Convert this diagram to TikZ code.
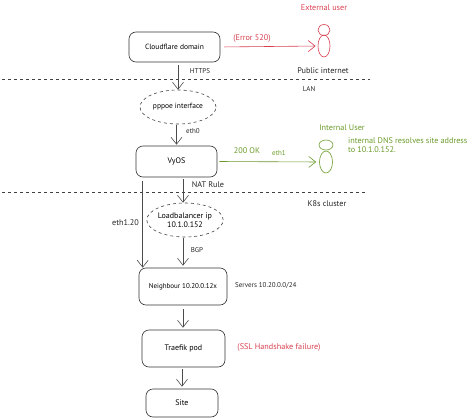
\documentclass[tikz,border=0pt]{standalone}
\usepackage{fontspec}
\setmainfont{PT Sans}
\usepackage{tikz}
\usetikzlibrary{positioning,arrows.meta,shapes.geometric}
\definecolor{failred}{HTML}{D8404F}
\definecolor{okgreen}{HTML}{6A9A2A}
\tikzset{
  part/.style={draw=black!80, line width=0.6pt, rounded corners=7pt, inner sep=0pt, font=\fontsize{8}{9}\selectfont, align=center},
  iface/.style={ellipse, draw=black!75, dashed, line width=0.6pt, inner sep=0pt, font=\fontsize{8}{9}\selectfont, align=center},
  limb/.style={ellipse, line width=0.6pt, inner sep=0pt},
  flow/.style={-{Straight Barb[length=7pt,width=11pt]}, line width=0.6pt, draw=black!70},
  zone/.style={draw=black!75, dashed, line width=0.6pt},
  flabel/.style={font=\fontsize{7}{8}\selectfont, text=black!85, inner sep=0pt, align=left},
  wlabel/.style={flabel, font=\fontsize{8.2}{9.2}\selectfont},
}
\begin{document}
\begin{tikzpicture}[x=1pt,y=-1pt]
\useasboundingbox (0,0) rectangle (474,420);
% boxes down the middle
\node[part, minimum width=91pt, minimum height=30pt, font=\fontsize{7.5}{8}\selectfont] (cloudflare) at (174.5,47) {Cloudflare domain};
\node[iface, minimum width=76pt, minimum height=34pt, font=\fontsize{7.5}{8}\selectfont] (pppoe) at (178,107) {pppoe interface};
\node[part, minimum width=81pt, minimum height=31pt] (vyos) at (176.5,161.5) {VyOS};
\node[iface, minimum width=76pt, minimum height=34pt] (lbip) at (185,220) {Loadbalancer ip\\[0.5pt]10.1.0.152};
\node[part, minimum width=88pt, minimum height=37pt, font=\fontsize{7}{8}\selectfont] (neighbour) at (183,286.5) {Neighbour 10.20.0.12x};
\node[part, minimum width=83pt, minimum height=37pt] (traefik) at (183.5,348.5) {Traefik pod};
\node[part, minimum width=72pt, minimum height=28pt] (site) at (182,403) {Site};
% external user
\node[limb, draw=failred, minimum width=12pt, minimum height=11pt] (exthead) at (324,30) {};
\node[limb, draw=failred, minimum width=12pt, minimum height=22pt] (extbody) at (324,46) {};
% internal user
\node[limb, draw=okgreen, minimum width=14pt, minimum height=10pt] (inthead) at (326,145) {};
\node[limb, draw=okgreen, minimum width=13pt, minimum height=22pt] (intbody) at (326,162) {};
% zone boundaries
\coordinate (lanleft) at (2,79);
\coordinate (lanright) at (370,79);
\coordinate (k8sleft) at (2,192);
\coordinate (k8sright) at (366,192);
\draw[zone] (lanleft) -- (lanright);
\draw[zone] (k8sleft) -- (k8sright);
% connectors
\draw[flow, shorten <=3pt] (cloudflare.south -| pppoe.north) -- (pppoe.north);
\draw[flow, shorten <=1pt, shorten >=1pt] (pppoe.south -| vyos.north) -- (vyos.north);
\draw[flow, shorten <=2pt] (vyos.south -| 183,0) -- (lbip.north -| 183,0);
\draw[flow, shorten <=4pt] ([xshift=7pt]vyos.south west) -- ([xshift=4pt]neighbour.north west);
\draw[flow, shorten <=1pt, shorten >=2pt] (lbip.south -| neighbour.north) -- (neighbour.north);
\draw[flow, shorten <=4pt, shorten >=2pt] (neighbour.south) -- (traefik.north -| neighbour.south);
\draw[flow, shorten <=2pt, shorten >=2pt] (traefik.south -| site.north) -- (site.north);
\draw[flow, draw=failred, shorten <=4pt, shorten >=2pt] (cloudflare.east) -- (extbody.west);
\draw[flow, draw=okgreen, shorten <=2pt, shorten >=3pt] (vyos.east) -- (intbody.west);
% labels
\node[wlabel, text=failred] (extlabel) at (324,8) {External user};
\node[wlabel, text=failred] (errlabel) at (252,38) {(Error 520)};
\node[flabel] (httpslabel) at (200,71) {HTTPS};
\node[wlabel] (publiclabel) at (323,71) {Public internet};
\node[flabel] (lanlabel) at (309,89) {LAN};
\node[flabel] (eth0label) at (193,131) {eth0};
\node[wlabel, text=okgreen] (intlabel) at (342,128) {Internal User};
\node[wlabel, text=okgreen] (oklabel) at (247,151) {200 OK};
\node[flabel, text=okgreen] (eth1label) at (279,153) {eth1};
\node[wlabel, text=okgreen, anchor=north west] (dnslabel) at (348,137.5) {internal DNS resolves site address\\[-0.5pt]to 10.1.0.152.};
\node[wlabel] (natlabel) at (208,185) {NAT Rule};
\node[wlabel] (k8slabel) at (327,204) {K8s cluster};
\node[wlabel, anchor=east] (vlanlabel) at (139,223) {eth1.20};
\node[flabel] (bgplabel) at (197,250) {BGP};
\node[flabel, anchor=west] (serverslabel) at (235,285) {Servers 10.20.0.0/24};
\node[wlabel, text=failred] (ssllabel) at (279,347) {(SSL Handshake failure)};
\end{tikzpicture}
\end{document}
